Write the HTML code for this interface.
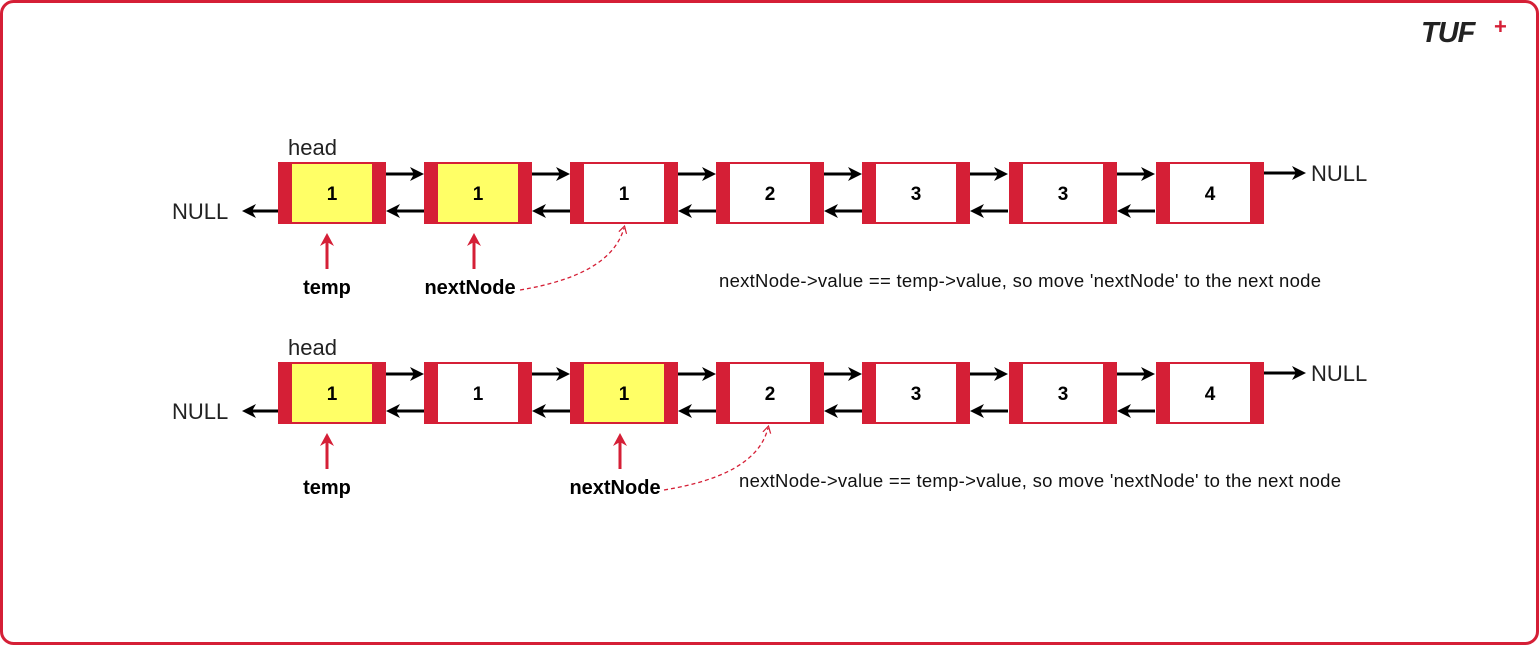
<!DOCTYPE html><html><head><style>body{margin:0;background:#fff}svg{display:block}</style></head><body>
<svg width="1539" height="645" xmlns="http://www.w3.org/2000/svg" font-family="Liberation Sans, sans-serif">
<defs>
<marker id="d" markerWidth="10" markerHeight="10" refX="5" refY="5" orient="auto" markerUnits="userSpaceOnUse"><path d="M0,1 L7,5 L0,9" fill="none" stroke="#d51f36" stroke-width="1.2"/></marker>
<g id="n"><rect x="0" y="0" width="108" height="62" fill="#d51f36"/><rect x="14" y="2" width="80" height="58" fill="#fff"/></g>
<g id="ny"><rect x="0" y="0" width="108" height="62" fill="#d51f36"/><rect x="14" y="2" width="80" height="58" fill="#ffff66"/></g>
<g id="ar"><line x1="108" y1="12" x2="136" y2="12" stroke="#000" stroke-width="3"/><polygon points="146,12 132,5 136,12 132,19" fill="#000"/>
<line x1="146" y1="49" x2="118" y2="49" stroke="#000" stroke-width="3"/><polygon points="108,49 122,42 118,49 122,56" fill="#000"/></g>
<g id="up"><line x1="0" y1="36" x2="0" y2="8" stroke="#d51f36" stroke-width="3"/><polygon points="0,0 -7,13 0,9 7,13" fill="#d51f36"/></g>
</defs>
<rect x="1.5" y="1.5" width="1536" height="642" rx="12" fill="#fff" stroke="#d51f36" stroke-width="3"/>
<text x="1421" y="42" font-size="29" font-weight="900" font-style="italic" fill="#222" letter-spacing="-1">TUF</text><text x="1494" y="34" font-size="22" font-weight="bold" fill="#d51f36">+</text>
<g font-size="22" fill="#222"><text x="288" y="155">head</text><text x="172" y="219">NULL</text><text x="1311" y="181">NULL</text>
<text x="288" y="355">head</text><text x="172" y="419">NULL</text><text x="1311" y="381">NULL</text></g>
<g stroke="#000" stroke-width="3"><line x1="278" y1="211" x2="252" y2="211"/><line x1="1264" y1="173" x2="1296" y2="173"/>
<line x1="278" y1="411" x2="252" y2="411"/><line x1="1264" y1="373" x2="1296" y2="373"/></g>
<g fill="#000"><polygon points="242,211 256,204 252,211 256,218"/><polygon points="1306,173 1292,166 1296,173 1292,180"/>
<polygon points="242,411 256,404 252,411 256,418"/><polygon points="1306,373 1292,366 1296,373 1292,380"/></g>
<g transform="translate(0,162)">
<use href="#ny" x="278"/><use href="#ny" x="424"/><use href="#n" x="570"/><use href="#n" x="716"/><use href="#n" x="862"/><use href="#n" x="1009"/><use href="#n" x="1156"/>
<use href="#ar" x="278"/><use href="#ar" x="424"/><use href="#ar" x="570"/><use href="#ar" x="716"/><use href="#ar" x="862"/><use href="#ar" x="1009"/>
</g>
<g transform="translate(0,362)">
<use href="#ny" x="278"/><use href="#n" x="424"/><use href="#ny" x="570"/><use href="#n" x="716"/><use href="#n" x="862"/><use href="#n" x="1009"/><use href="#n" x="1156"/>
<use href="#ar" x="278"/><use href="#ar" x="424"/><use href="#ar" x="570"/><use href="#ar" x="716"/><use href="#ar" x="862"/><use href="#ar" x="1009"/>
</g>
<g font-size="19" font-weight="bold" text-anchor="middle" fill="#000">
<text x="332" y="200">1</text><text x="478" y="200">1</text><text x="624" y="200">1</text><text x="770" y="200">2</text><text x="916" y="200">3</text><text x="1063" y="200">3</text><text x="1210" y="200">4</text>
<text x="332" y="400">1</text><text x="478" y="400">1</text><text x="624" y="400">1</text><text x="770" y="400">2</text><text x="916" y="400">3</text><text x="1063" y="400">3</text><text x="1210" y="400">4</text>
</g>
<g font-size="20" font-weight="bold" text-anchor="middle" fill="#000">
<text x="327" y="294">temp</text><text x="470" y="294">nextNode</text><text x="327" y="494">temp</text><text x="615" y="494">nextNode</text>
</g>
<use href="#up" x="327" y="233"/><use href="#up" x="474" y="233"/><use href="#up" x="327" y="433"/><use href="#up" x="620" y="433"/>
<g fill="none" stroke="#d51f36" stroke-width="1.3" stroke-dasharray="4,3"><path d="M520,290 C580,280 615,260 624,228" marker-end="url(#d)"/><path d="M664,490 C725,480 760,460 768,428" marker-end="url(#d)"/></g>
<g font-size="18.5" fill="#111"><text x="719" y="287" textLength="602">nextNode-&gt;value == temp-&gt;value, so move 'nextNode' to the next node</text>
<text x="739" y="487" textLength="602">nextNode-&gt;value == temp-&gt;value, so move 'nextNode' to the next node</text></g>
</svg></body></html>
